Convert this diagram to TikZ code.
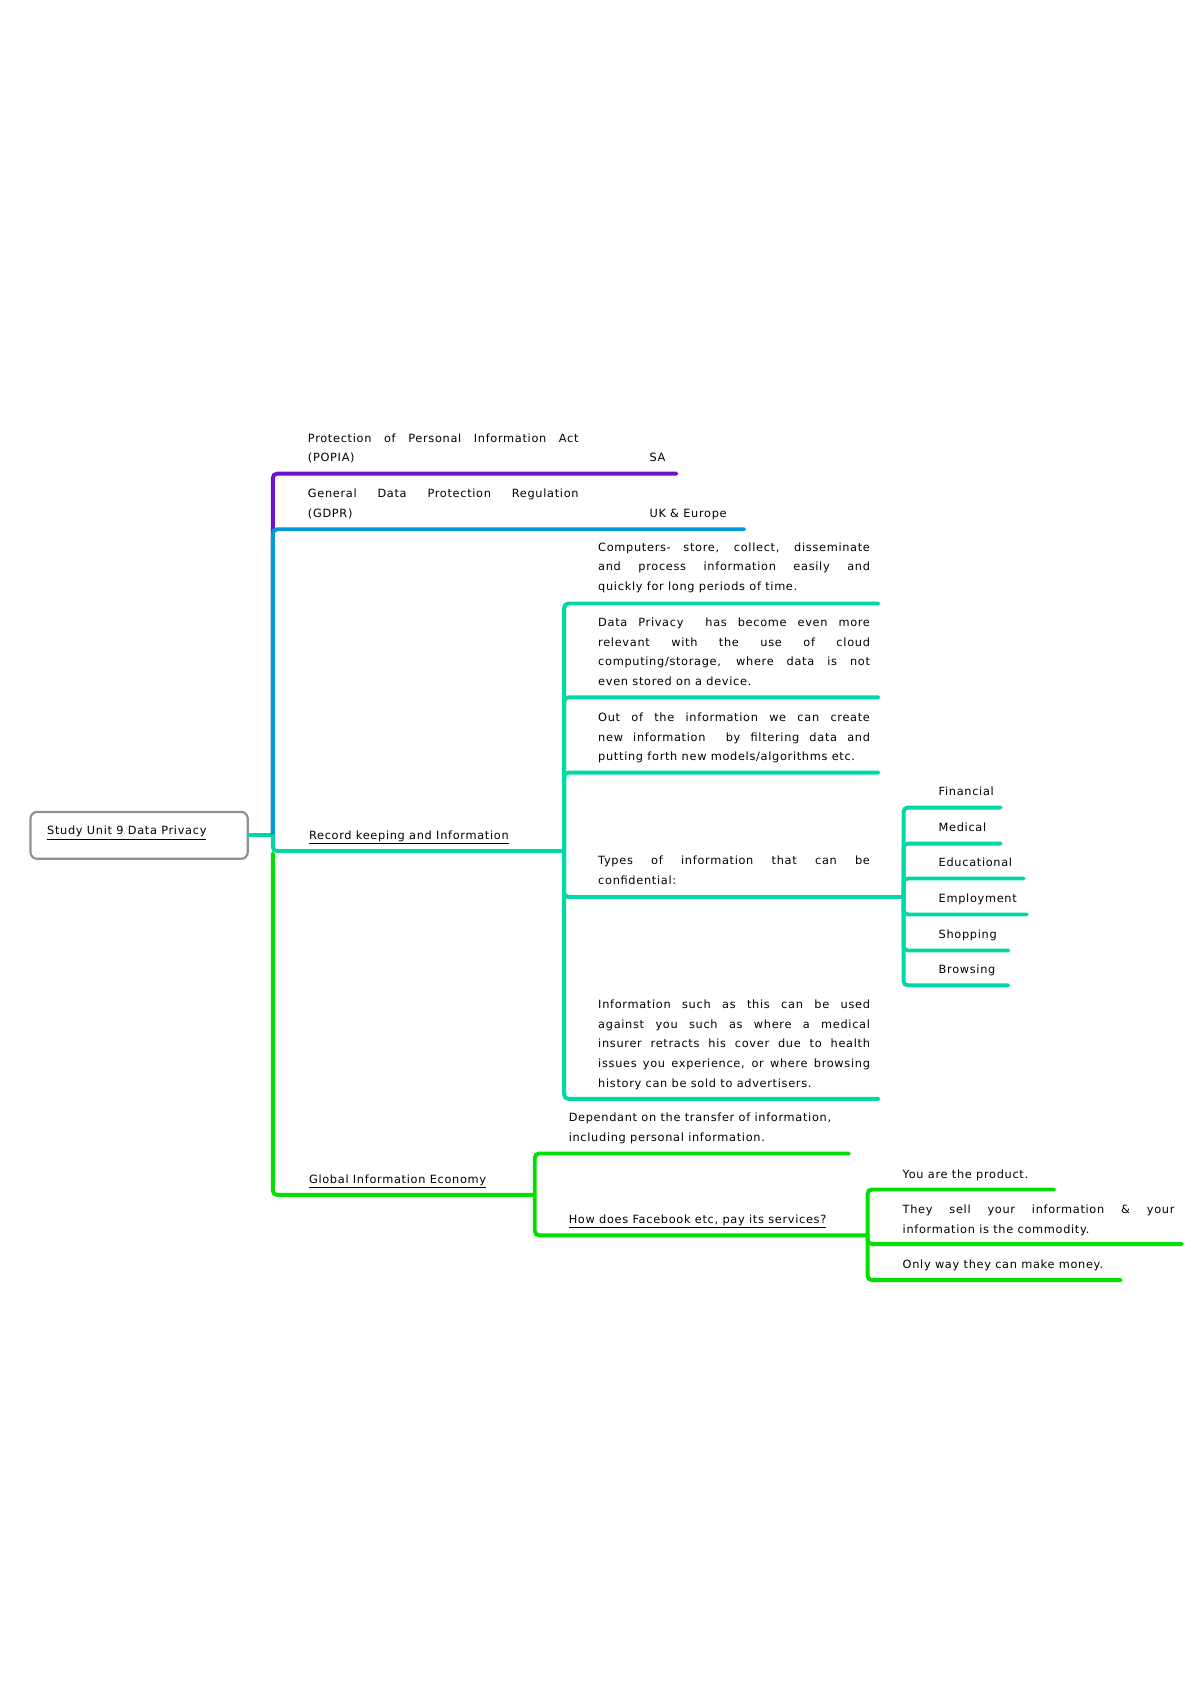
\documentclass[tikz,border=0pt]{standalone}
\usepackage{fontspec}
\setmainfont[LetterSpace=6]{DejaVu Sans}
\newcommand{\jl}[1]{\makebox[249pt][s]{#1}\\}
\begin{document}
\begin{tikzpicture}[x=1pt,y=-1pt,
  br/.style={line width=3.6pt,rounded corners=4pt,line cap=round},
  txt/.style={font=\fontsize{10.4}{18}\selectfont,anchor=north west,inner sep=0pt,align=left},
  para/.style={txt},
  ul/.style={txt}]
\definecolor{cpur}{HTML}{7010D0}
\definecolor{cblu}{HTML}{0099D8}
\definecolor{cteal}{HTML}{00D8A8}
\definecolor{cgrn}{HTML}{00E000}
\definecolor{cgray}{HTML}{909090}
\useasboundingbox (0,0) rectangle (1100,1556);
% root
\node[draw=cgray,line width=2pt,rounded corners=6pt,minimum width=199pt,minimum height=43pt,anchor=north west] (root) at (27,743) {};
\node[ul] (roott) at (43,757) {\underline{Study Unit 9 Data Privacy}};
\coordinate (hub) at (250,764);
\draw[br,cteal] (root.east) -- (root.east -| hub);
% POPIA / GDPR
\coordinate (p1) at (620,434); \coordinate (g1) at (682,485);
\draw[br,cpur] (hub) -- (250,434) -- (p1);
\draw[br,cblu] (hub) -- (250,485) -- (g1);
\node[txt] (popia) at (282,397) {\makebox[248pt][s]{Protection of Personal Information Act}\\(POPIA)};
\node[txt] (sa) at (595,415) {SA};
\node[txt] (gdpr) at (282,448) {\makebox[248pt][s]{General Data Protection Regulation}\\(GDPR)};
\node[txt] (uk) at (595,466) {UK \& Europe};
% record keeping
\coordinate (rk) at (517,780);
\draw[br,cteal] (250,766) -- (250,780) -- (rk);
\node[ul] (rkt) at (283,761) {\underline{Record keeping and Information}};
\foreach \y/\e in {553/805,639/805,708/805,822/828,1007/805}{
  \draw[br,cteal] (rk) -- (517,\y) -- (\e,\y);}
\node[para] (t1) at (548,497) {\jl{Computers- store, collect, disseminate}\jl{and process information easily and}quickly for long periods of time.};
\node[para] (t2) at (548,566) {\jl{Data Privacy \ has become even more}\jl{relevant with the use of cloud}\jl{computing/storage, where data is not}even stored on a device.};
\node[para] (t3) at (548,653) {\jl{Out of the information we can create}\jl{new information \ by filtering data and}putting forth new models/algorithms etc.};
\node[para] (t4) at (548,784) {\jl{Types of information that can be}confidential:};
\node[para] (t5) at (548,916) {\jl{Information such as this can be used}\jl{against you such as where a medical}\jl{insurer retracts his cover due to health}\jl{issues you experience, or where browsing}history can be sold to advertisers.};
% types
\coordinate (ty) at (828,822);
\foreach \y/\e/\l in {740/917/Financial,773/917/Medical,805/938/Educational,838/941/Employment,871/924/Shopping,903/924/Browsing}{
  \draw[br,cteal] (ty) -- (828,\y) -- (\e,\y);
  \node[txt] at (860,\y-19) {\l};}
% global
\coordinate (gl) at (490,1095);
\draw[br,cgrn] (250,782) -- (250,1095) -- (gl);
\node[ul] (glt) at (283,1076) {\underline{Global Information Economy}};
\draw[br,cgrn] (gl) -- (490,1057) -- (778,1057);
\coordinate (fb) at (795,1132);
\draw[br,cgrn] (gl) -- (490,1132) -- (fb);
\node[txt] (dep) at (521,1020) {Dependant on the transfer of information,\\including personal information.};
\node[ul] (fbt) at (521,1113) {\underline{How does Facebook etc, pay its services?}};
\draw[br,cgrn] (fb) -- (795,1090) -- (966,1090);
\draw[br,cgrn] (fb) -- (795,1140) -- (1083,1140);
\draw[br,cgrn] (fb) -- (795,1173) -- (1027,1173);
\node[txt] (y1) at (827,1072) {You are the product.};
\node[para] (y2) at (827,1104) {\jl{They sell your information \& your}information is the commodity.};
\node[txt] (y3) at (827,1154) {Only way they can make money.};
\end{tikzpicture}
\end{document}
